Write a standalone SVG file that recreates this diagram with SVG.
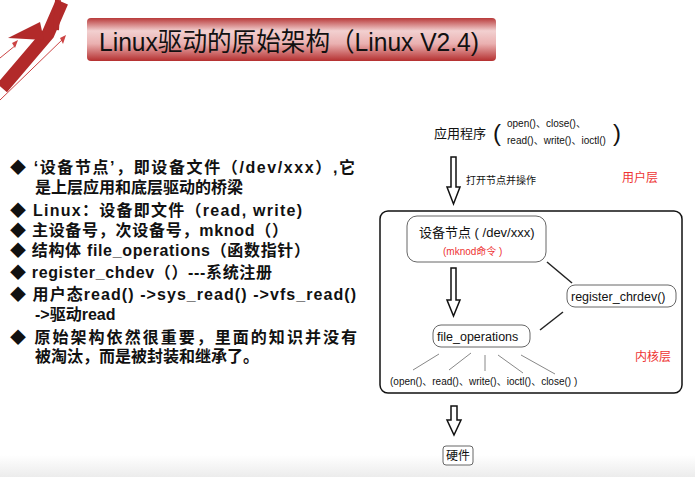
<svg xmlns="http://www.w3.org/2000/svg" width="695" height="477" viewBox="0 0 695 477">
<defs>
<linearGradient id="tg" x1="0" y1="0" x2="0" y2="1">
<stop offset="0" stop-color="#b83a3a"/><stop offset="0.3" stop-color="#f2d0d0"/><stop offset="0.6" stop-color="#eab0b0"/><stop offset="1" stop-color="#b53030"/>
</linearGradient>
<linearGradient id="bg" x1="0" y1="0" x2="0" y2="1"><stop offset="0" stop-color="#fff"/><stop offset="1" stop-color="#ececec"/></linearGradient>
</defs>
<style>
text{font-family:"Liberation Sans","Noto Sans CJK SC",sans-serif;fill:#111}
.b{font-size:16px;font-weight:bold}
.s{font-size:10px}
.r{fill:#e33}
.box{fill:#fff;stroke:#666;stroke-width:1}
.ln{stroke:#222;stroke-width:1.5;fill:none}
.fl{stroke:#888;stroke-width:1;fill:none}
.ha{fill:#fff;stroke:#111;stroke-width:1.5}
</style>
<rect width="695" height="477" fill="#fff"/>
<rect y="455" width="695" height="22" fill="url(#bg)"/>
<g id="logo">
<polyline points="2,88 48,34 62,2" fill="none" stroke="#b22a2a" stroke-width="13"/>
<polygon points="8,38 40,22 44,40" fill="#b22a2a"/>
<line x1="58" y1="0" x2="56" y2="30" stroke="#b22a2a" stroke-width="6"/>
<line x1="0" y1="58" x2="16" y2="45" stroke="#c44" stroke-width="1"/>
<line x1="0" y1="100" x2="64" y2="38" stroke="#c44" stroke-width="1"/>
<polygon points="12,43 18,40 15,48" fill="#c44"/>
<polygon points="60,38 66,35 63,44" fill="#c44"/>
</g>
<g id="title">
<rect x="87" y="18" width="409" height="43" rx="4" fill="url(#tg)"/>
<text x="99" y="51" style="font-size:26px" textLength="380" lengthAdjust="spacingAndGlyphs">Linux驱动的原始架构（Linux V2.4)</text>
</g>
<g id="bullets" class="b">
<text x="10" y="173" textLength="345">◆ ‘设备节点’，即设备文件（/dev/xxx）,它</text>
<text x="35" y="193">是上层应用和底层驱动的桥梁</text>
<text x="10" y="216" textLength="292">◆ Linux：设备即文件（read, write)</text>
<text x="10" y="236" textLength="278">◆ 主设备号，次设备号，mknod（）</text>
<text x="10" y="256" textLength="300">◆ 结构体 file_operations（函数指针）</text>
<text x="10" y="278" textLength="262">◆ register_chdev（）---系统注册</text>
<text x="10" y="300" textLength="346">◆ 用户态read() -&gt;sys_read() -&gt;vfs_read()</text>
<text x="35" y="320">-&gt;驱动read</text>
<text x="10" y="343" textLength="347">◆ 原始架构依然很重要，里面的知识并没有</text>
<text x="35" y="362">被淘汰，而是被封装和继承了。</text>
</g>
<g id="app">
<text x="434" y="138" style="font-size:13px">应用程序</text>
<text x="493" y="141" style="font-size:24px">(</text>
<text x="507" y="127" class="s">open()、close()、</text>
<text x="507" y="144" class="s">read()、write()、ioctl()</text>
<text x="613" y="141" style="font-size:24px">)</text>
</g>
<g id="connectors">
<polygon class="ha" points="451,157 456,157 456,187 460,187 453.5,204 447,187 451,187"/>
<polygon class="ha" points="451,268 456,268 456,300 460,300 453.5,316 447,300 451,300"/>
<polygon class="ha" points="451,406 457,406 457,420 461,420 454,435 447,420 451,420"/>
<line class="ln" x1="547" y1="262" x2="572" y2="283"/>
<line class="ln" x1="563" y1="312" x2="540" y2="330"/>
<line class="fl" x1="439" y1="354" x2="413" y2="370"/>
<line class="fl" x1="471" y1="353" x2="449" y2="370"/>
<line class="fl" x1="485" y1="355" x2="485" y2="371"/>
<line class="fl" x1="498" y1="355" x2="523" y2="373"/>
<line class="fl" x1="521" y1="355" x2="555" y2="374"/>
</g>
<text x="466" y="184" class="s">打开节点并操作</text>
<text x="622" y="182" class="r" style="font-size:12px">用户层</text>
<g id="kernel">
<rect x="380" y="211" width="302" height="182" rx="8" fill="none" stroke="#111" stroke-width="1.5"/>
<text x="635" y="361" class="r" style="font-size:12px">内核层</text>
<text x="390" y="385" class="s">(open()、read()、write()、ioctl()、close() )</text>
</g>
<g id="devnode">
<rect class="box" x="407" y="216" width="139" height="46" rx="10"/>
<text x="419" y="237" style="font-size:13px">设备节点 ( /dev/xxx)</text>
<text x="443" y="255" class="r s">(mknod命令 )</text>
</g>
<g id="register">
<rect class="box" x="567" y="285" width="109" height="22" rx="8"/>
<text x="571" y="301" style="font-size:12.5px">register_chrdev()</text>
</g>
<g id="fops">
<rect class="box" x="433" y="325" width="97" height="22" rx="8"/>
<text x="437" y="341" style="font-size:12.5px">file_operations</text>
</g>
<g id="hw">
<rect class="box" x="443" y="446" width="30" height="19" rx="3"/>
<text x="446" y="460" style="font-size:12px">硬件</text>
</g>
</svg>
